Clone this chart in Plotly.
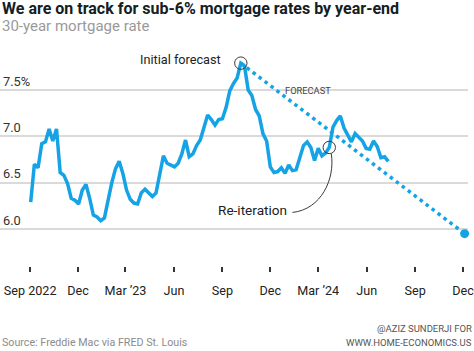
import pandas as pd
import plotly.graph_objects as go

# ---------------- data ----------------
# weekly 30-year mortgage rate, first point at the Sep 2022 tick, last ~early Aug 2024
rates = [
    6.29, 6.70, 6.66, 6.92, 6.94, 7.08, 6.95, 7.08, 6.61, 6.58, 6.49, 6.33, 6.31, 6.27, 6.42,
    6.48, 6.33, 6.15, 6.13, 6.09, 6.12, 6.32, 6.50, 6.65, 6.73, 6.60, 6.42, 6.32, 6.28, 6.27,
    6.39, 6.43, 6.39, 6.35, 6.39, 6.57, 6.79, 6.71, 6.69, 6.67, 6.71, 6.81, 6.96, 6.78, 6.81,
    6.90, 6.96, 7.09, 7.23, 7.18, 7.12, 7.18, 7.19, 7.31, 7.49, 7.57, 7.63, 7.79, 7.76, 7.50,
    7.44, 7.29, 7.22, 7.03, 6.95, 6.67, 6.61,
    6.62, 6.66, 6.60, 6.69, 6.63, 6.64, 6.77, 6.90, 6.94, 6.88, 6.74, 6.87, 6.79, 6.82, 6.88,
    7.10, 7.17, 7.22, 7.09, 7.02, 6.94, 7.03, 6.99, 6.95, 6.87, 6.86, 6.95, 6.89, 6.77, 6.78,
    6.73,
]
dates = pd.date_range("2022-09-02", periods=len(rates), freq="7D")

forecast_end_date = "2024-12-04"
forecast_end_rate = 5.95
reiteration_index = 81  # the circled point where the forecast was re-iterated

x_tick_vals = ["2022-09-01", "2022-12-01", "2023-03-01", "2023-06-01", "2023-09-01",
               "2023-12-01", "2024-03-01", "2024-06-01", "2024-09-01", "2024-12-01"]
x_tick_text = ["Sep 2022", "Dec", "Mar \u201923", "Jun", "Sep",
               "Dec", "Mar \u201924", "Jun", "Sep", "Dec"]
year_tick_vals = ["2023-03-01", "2024-03-01"]
y_tick_vals = [6.0, 6.5, 7.0, 7.5]
y_tick_text = ["6.0", "6.5", "7.0", "7.5%"]

# ---------------- styling / geometry ----------------
W, H = 474, 351
ML, MR, MT, MB = 0, 4, 55, 85
PW, PH = W - ML - MR, H - MT - MB
X_RANGE = ["2022-07-05 17:00", "2024-12-10 10:00"]
Y_RANGE = [5.6007, 7.8777]

BLUE = "#15a3e6"
FONT = "Roboto, Liberation Sans, Arial, sans-serif"


def px_x(px):
    return (px - ML) / PW


def px_y(py):
    return (MT + PH - py) / PH


def data_px(d, v):
    x0, x1 = pd.Timestamp(X_RANGE[0]), pd.Timestamp(X_RANGE[1])
    fx = (pd.Timestamp(d) - x0) / (x1 - x0)
    fy = (v - Y_RANGE[0]) / (Y_RANGE[1] - Y_RANGE[0])
    return ML + fx * PW, MT + (1 - fy) * PH


peak = rates.index(max(rates))

fig = go.Figure()
fig.add_trace(go.Scatter(
    x=dates, y=rates, mode="lines",
    line=dict(color=BLUE, width=3.5), hoverinfo="skip", cliponaxis=False))
fig.add_trace(go.Scatter(
    x=[dates[peak], forecast_end_date], y=[rates[peak], forecast_end_rate], mode="lines",
    line=dict(color=BLUE, width=3.5, dash="3.5px,4px"), hoverinfo="skip", cliponaxis=False))
fig.add_trace(go.Scatter(
    x=[forecast_end_date], y=[forecast_end_rate], mode="markers",
    marker=dict(color=BLUE, size=9), hoverinfo="skip", cliponaxis=False))

shapes = []
# circles around the initial forecast point and the re-iteration point
for i in (peak, reiteration_index):
    shapes.append(dict(type="circle", xref="x", yref="y", xsizemode="pixel", ysizemode="pixel",
                       xanchor=dates[i], yanchor=rates[i], x0=-6.2, x1=6.2, y0=-6.2, y1=6.2,
                       line=dict(color="#3a3a3a", width=1)))
# gap in the 7.5 gridline behind the FORECAST label
shapes.append(dict(type="line", xref="paper", yref="y", x0=px_x(263), x1=px_x(337),
                   y0=7.5, y1=7.5, line=dict(color="white", width=3), layer="between"))
# connector from "Re-iteration" to its circle
cx, cy = data_px(dates[reiteration_index], rates[reiteration_index])
sx, sy = cx - 37, cy + 65
ex, ey = cx + 2, cy + 6.3
path = "M {:.4f},{:.4f} C {:.4f},{:.4f} {:.4f},{:.4f} {:.4f},{:.4f}".format(
    px_x(sx), px_y(sy), px_x(cx - 8), px_y(sy - 3), px_x(ex + 4), px_y(ey + 25), px_x(ex), px_y(ey))
shapes.append(dict(type="path", xref="paper", yref="paper", path=path,
                   line=dict(color="#3a3a3a", width=1)))

annotations = [
    dict(text="<b>We are on track for sub-6% mortgage rates by year-end</b>", xref="paper", yref="paper",
         x=px_x(0), y=px_y(9), xanchor="left", yanchor="middle", showarrow=False,
         font=dict(family=FONT, size=16, color="#13201f")),
    dict(text="30-year mortgage rate", xref="paper", yref="paper",
         x=px_x(0), y=px_y(26), xanchor="left", yanchor="middle", showarrow=False,
         font=dict(family=FONT, size=15, color="#9a9a9a")),
    dict(text="Initial forecast", xref="x", yref="y", x=dates[peak], y=rates[peak],
         xanchor="right", yanchor="middle", xshift=-18, yshift=4, showarrow=False,
         font=dict(family=FONT, size=12.7, color="#222222")),
    dict(text="FORECAST", xref="paper", yref="y", x=px_x(309), y=7.5,
         xanchor="center", yanchor="middle", showarrow=False,
         font=dict(family=FONT, size=9.3, color="#444444")),
    dict(text="Re-iteration", xref="x", yref="y", x=dates[reiteration_index], y=rates[reiteration_index],
         xanchor="right", yanchor="middle", xshift=-40, yshift=-63, showarrow=False,
         font=dict(family=FONT, size=13.6, color="#222222")),
    dict(text="Source: Freddie Mac via FRED St. Louis", xref="paper", yref="paper",
         x=px_x(0), y=px_y(342.5), xanchor="left", yanchor="middle", showarrow=False,
         font=dict(family=FONT, size=10.7, color="#8c8c8c")),
    dict(text="@AZIZ SUNDERJI FOR", xref="paper", yref="paper",
         x=px_x(476), y=px_y(328.5), xanchor="right", yanchor="middle", showarrow=False,
         font=dict(family=FONT, size=9.5, color="#555555")),
    dict(text="WWW.HOME-ECONOMICS.US", xref="paper", yref="paper",
         x=px_x(476), y=px_y(342.5), xanchor="right", yanchor="middle", showarrow=False,
         font=dict(family=FONT, size=9.5, color="#555555")),
]

fig.update_layout(
    width=W, height=H, margin=dict(l=ML, r=MR, t=MT, b=MB),
    paper_bgcolor="white", plot_bgcolor="white", showlegend=False,
    xaxis=dict(range=X_RANGE, type="date", tickmode="array", tickvals=x_tick_vals, ticktext=x_tick_text,
               ticks="outside", ticklen=5, tickwidth=1.5, tickcolor="#333333",
               showgrid=False, zeroline=False, showline=False, ticklabelstandoff=8,
               ticklabeloverflow="allow",
               tickfont=dict(family=FONT, size=12.6, color="#222222")),
    xaxis2=dict(range=X_RANGE, type="date", overlaying="x", anchor="y", side="bottom",
                tickmode="array", tickvals=year_tick_vals, ticks="outside", ticklen=7,
                tickwidth=1.5, tickcolor="#333333", showticklabels=False,
                showgrid=False, zeroline=False, showline=False),
    yaxis=dict(range=Y_RANGE, tickmode="array", tickvals=y_tick_vals, ticktext=y_tick_text,
               ticks="", showgrid=True, gridcolor="#dadada", gridwidth=1.5, zeroline=False,
               showline=False, ticklabelposition="inside top",
               tickfont=dict(family=FONT, size=12.8, color="#333333")),
    shapes=shapes, annotations=annotations,
)

fig.write_html("out.html")
